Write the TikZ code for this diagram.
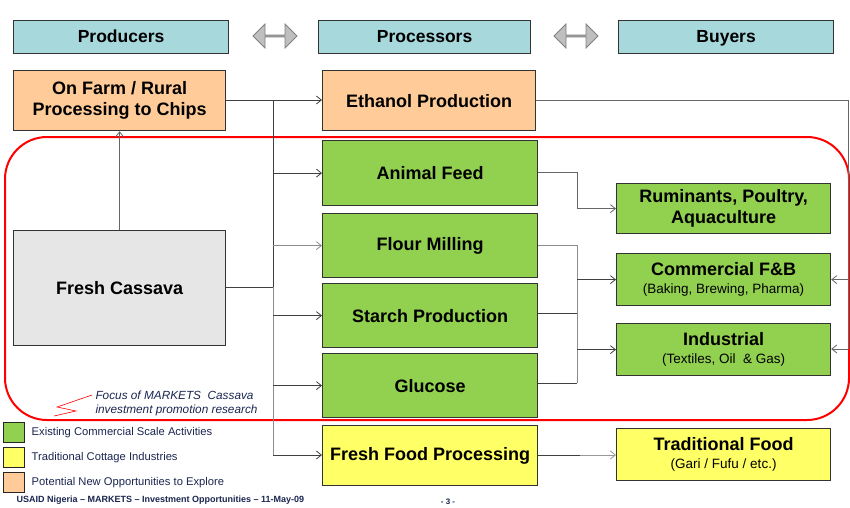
\documentclass[tikz,border=0pt]{standalone}
\usepackage{fontspec}
\setmainfont{Liberation Sans}
\usetikzlibrary{arrows.meta,shapes.arrows}
\definecolor{hdr}{HTML}{A6D8DC}
\definecolor{orng}{HTML}{FFCC99}
\definecolor{grn}{HTML}{92D050}
\definecolor{yel}{HTML}{FFFF66}
\definecolor{gry}{HTML}{E6E6E6}
\definecolor{navy}{HTML}{1A2550}
\tikzset{
  box/.style={draw=black!80, line width=1.2pt, inner sep=0pt, anchor=north west, align=center, font=\bfseries\fontsize{18}{21}\selectfont},
  hdrbox/.style={box, fill=hdr, text height=13pt, text depth=3pt, font=\bfseries\fontsize{17.5}{20}\selectfont},
  conn/.style={draw=black!75, line width=0.8pt},
  arr/.style={conn, -{Straight Barb[length=5pt,width=8pt]}},
  legbox/.style={draw=black!85, line width=1.2pt, minimum width=21pt, minimum height=20pt, inner sep=0pt, anchor=north west},
  legtxt/.style={anchor=west, text=navy, font=\fontsize{11.2}{13}\selectfont},
  dbl/.style={double arrow, draw=black!50, fill=black!25, line width=0.8pt, minimum height=44pt, minimum width=24pt, double arrow head extend=5pt, inner sep=0pt}
}
\newcommand{\subline}[1]{{\normalfont\fontsize{13.5}{15}\selectfont #1}}
\begin{document}
\begin{tikzpicture}[x=1pt,y=-1pt]
\useasboundingbox (0,0) rectangle (850,507);
% headers
\node[hdrbox, minimum width=215pt, minimum height=33pt] (prod) at (13,20) {Producers};
\node[hdrbox, minimum width=212pt, minimum height=33pt] (proc) at (318,20) {Processors};
\node[hdrbox, minimum width=215pt, minimum height=33pt] (buy) at (618,20) {Buyers};
\node[dbl] (d1) at (275,36) {};
\node[dbl] (d2) at (576,36) {};
% red focus area
\draw[red, line width=2pt, rounded corners=42pt] (5,137) rectangle (849,420);
% boxes
\node[box, fill=orng, minimum width=212pt, minimum height=60pt] (farm) at (13,70) {On Farm / Rural\\Processing to Chips};
\node[box, fill=orng, minimum width=213pt, minimum height=60pt] (eth) at (322,70) {Ethanol Production};
\node[box, fill=grn, minimum width=215pt, minimum height=65pt] (feed) at (322,140) {Animal Feed};
\node[box, fill=grn, minimum width=215pt, minimum height=64pt] (flour) at (322,213) {Flour Milling};
\node[box, fill=grn, minimum width=215pt, minimum height=64pt] (starch) at (322,283) {Starch Production};
\node[box, fill=grn, minimum width=215pt, minimum height=64pt] (gluc) at (322,353) {Glucose};
\node[box, fill=yel, minimum width=215pt, minimum height=60pt] (fresh) at (322,425) {Fresh Food Processing};
\node[box, fill=gry, minimum width=212pt, minimum height=115pt] (cass) at (13,230) {Fresh Cassava};
\node[box, fill=grn, minimum width=214pt, minimum height=50pt] (rum) at (616,183) {Ruminants, Poultry,\\Aquaculture};
\node[box, fill=grn, minimum width=214pt, minimum height=52pt] (cfb) at (616,253) {Commercial F\&B\\[-3pt]\subline{(Baking, Brewing, Pharma)}};
\node[box, fill=grn, minimum width=214pt, minimum height=52pt] (ind) at (616,323) {Industrial\\[-3pt]\subline{(Textiles, Oil \ \& Gas)}};
\node[box, fill=yel, minimum width=214pt, minimum height=52pt] (trad) at (616,428) {Traditional Food\\[-3pt]\subline{(Gari / Fufu / etc.)}};
% trunk connectors
\coordinate (t0) at (273,100);
\coordinate (tc) at (273,287);
\coordinate (tb) at (273,455);
\draw[arr] (farm.east |- t0) -- (eth.west |- t0);
\draw[conn] (t0) -- (tc);
\draw[conn, draw=black!45] (tc) -- (tb);
\draw[conn] (cass.east |- tc) -- (tc);
\draw[arr] (t0 |- feed.west) -- (feed.west);
\draw[arr, draw=black!45] (t0 |- flour.west) -- (flour.west);
\draw[arr] (t0 |- starch.west) -- (starch.west);
\draw[arr] (t0 |- gluc.west) -- (gluc.west);
\draw[arr] (tb) -- (fresh.west |- tb);
\draw[arr, draw=black!60] (cass.north) -- (farm.south);
% right bracket
\coordinate (ba) at (577,172);
\draw[arr, draw=black!60] (feed.east |- ba) -- (ba) |- (rum.west);
\coordinate (b1) at (577,245);
\coordinate (b2) at (577,383);
\coordinate (bm) at (577,313);
\draw[conn, draw=black!45] (flour.east |- b1) -- (b1) -- (b2);
\draw[conn] (gluc.east |- b2) -- (b2);
\draw[conn] (starch.east |- bm) -- (bm);
\draw[arr] (b1 |- cfb.west) -- (cfb.west);
\draw[arr] (b1 |- ind.west) -- (ind.west);
% ethanol to buyers
\coordinate (e1) at (848,100);
\coordinate (e2) at (848,349);
\draw[conn, draw=black!60] (eth.east |- e1) -- (e1) -- (e2);
\draw[arr, draw=black!60] (e1 |- cfb.east) -- (cfb.east);
\draw[arr, draw=black!60] (e2) -- (ind.east |- e2);
% fresh food to traditional
\coordinate (f1) at (580,455);
\draw[conn] (fresh.east |- f1) -- (f1);
\draw[arr, draw=black!40] (f1) -- (trad.west |- f1);
% annotation
\node[anchor=west, text=navy, align=left, font=\itshape\fontsize{11.8}{14}\selectfont] (focus) at (92,403) {Focus of MARKETS \ Cassava\\investment promotion research};
\coordinate (z0) at (92,395);
\coordinate (z1) at (57,407);
\coordinate (z2) at (76,411);
\coordinate (z3) at (54,416);
\draw[red, line width=0.6pt] (z0) -- (z1) -- (z2) -- (z3);
% legend
\node[legbox, fill=grn] (lg1) at (3,422) {};
\node[legbox, fill=yel] (lg2) at (3,447) {};
\node[legbox, fill=orng] (lg3) at (3,472) {};
\node[legtxt, xshift=3pt] (lt1) at (lg1.east) {Existing Commercial Scale Activities};
\node[legtxt, xshift=3pt] (lt2) at (lg2.east) {Traditional Cottage Industries};
\node[legtxt, xshift=3pt] (lt3) at (lg3.east) {Potential New Opportunities to Explore};
% footer
\node[anchor=west, text=navy, font=\bfseries\fontsize{9}{10}\selectfont] (foot) at (13,500) {USAID Nigeria -- MARKETS -- Investment Opportunities -- 11-May-09};
\node[text=navy, font=\bfseries\fontsize{8}{9}\selectfont] (pg) at (448,502) {- 3 -};
\end{tikzpicture}
\end{document}
